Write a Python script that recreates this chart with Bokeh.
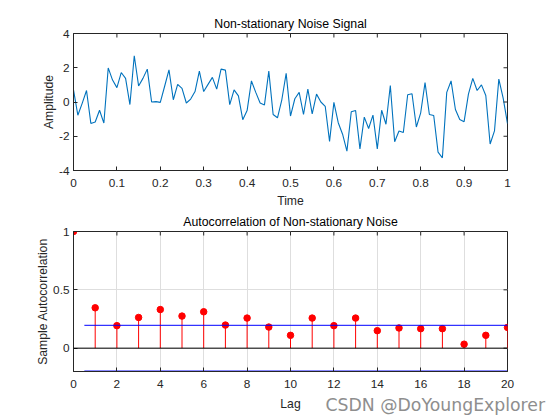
import math
from bokeh.plotting import figure
from bokeh.layouts import column
from bokeh.models import FixedTicker, Span, CustomJSTickFormatter
from bokeh.core.properties import value
from bokeh.embed import file_html
from bokeh.resources import INLINE

# ---------------- data ----------------
time = [i / 100 for i in range(101)]
signal = [0.71, -0.77, -0.08, 0.67, -1.25, -1.17, -0.48, -1.23, 1.99, 1.28,
          0.84, 1.72, 1.38, -0.15, 2.70, 0.94, 1.38, 1.92, 0.00, 0.02,
          -0.02, 0.92, 1.88, 0.13, 1.03, 0.80, -0.06, 0.17, 0.61, 1.80,
          0.61, 1.03, 1.44, 0.75, 1.92, 1.86, -0.15, 0.71, 0.36, -1.03,
          -0.50, 1.23, 0.56, -0.06, -0.17, 1.80, -0.73, -0.92, 0.13, 1.67,
          -0.82, 0.19, 0.56, -0.73, 0.75, -0.69, 0.46, 0.00, -0.25, -2.30,
          -0.02, -1.21, -1.88, -2.87, -0.57, -0.50, -2.74, -0.88, -1.55, -0.77,
          -2.74, -0.48, -1.30, 0.96, -2.32, -1.69, -1.78, 0.42, 0.48, -1.46,
          -0.63, 1.13, -0.73, -0.79, -2.93, -3.26, 0.56, 1.23, -0.44, -1.02,
          -1.15, 0.46, 1.38, 0.67, 1.00, 0.38, -2.45, -1.69, 1.34, 0.23,
          -1.26]
lags = list(range(21))
acf = [1.0, 0.346, 0.193, 0.263, 0.331, 0.275, 0.312, 0.198, 0.258, 0.181,
       0.110, 0.258, 0.193, 0.258, 0.150, 0.173, 0.167, 0.167, 0.034, 0.110,
       0.178]
bound = 0.196
time_ticks = [0, 0.1, 0.2, 0.3, 0.4, 0.5, 0.6, 0.7, 0.8, 0.9, 1]
amp_ticks = [-4, -2, 0, 2, 4]
lag_ticks = list(range(0, 21, 2))
acf_ticks = [0, 0.5, 1]
watermark = "CSDN @DoYoungExplorer"

FONT = "Liberation Sans"
AX = "#262626"
fmt = CustomJSTickFormatter(code="return Number(tick.toFixed(3)).toString();")


def style(p, xt, yt):
    p.outline_line_color = AX
    p.outline_line_alpha = 1
    p.outline_line_width = 1
    p.title.align = "center"
    p.title.text_font = FONT
    p.title.text_font_size = "12.3px"
    p.title.text_font_style = "normal"
    p.title.text_color = "black"
    p.title.standoff = 5
    for ax in (p.xaxis[0], p.yaxis[0]):
        ax.major_tick_in = 4
        ax.major_tick_out = 0
        ax.minor_tick_line_color = None
        ax.axis_line_color = AX
        ax.major_tick_line_color = AX
        ax.major_label_text_font = FONT
        ax.major_label_text_font_size = "11.8px"
        ax.major_label_text_color = AX
        ax.axis_label_text_font = FONT
        ax.axis_label_text_font_size = "12.2px"
        ax.axis_label_text_font_style = "normal"
        ax.axis_label_text_color = AX
        ax.formatter = fmt
    p.xaxis[0].axis_label_standoff = 4
    p.yaxis[0].axis_label_standoff = 0
    p.xaxis[0].major_label_standoff = 8
    p.yaxis[0].major_label_standoff = 4
    p.xaxis[0].ticker = FixedTicker(ticks=xt)
    p.yaxis[0].ticker = FixedTicker(ticks=yt)
    # inward ticks on the top and right edges of the box
    x_end = p.x_range.end
    y_end = p.y_range.end
    p.ray(x=xt, y=[y_end] * len(xt), length=4, length_units="screen",
          angle=-math.pi / 2, line_color=AX, line_width=1)
    p.ray(x=[x_end] * len(yt), y=yt, length=4, length_units="screen",
          angle=math.pi, line_color=AX, line_width=1)


# ---------------- top: signal ----------------
p1 = figure(width=560, height=210, x_range=(0, 1), y_range=(-4, 4),
            title="Non-stationary Noise Signal", output_backend="svg",
            toolbar_location=None, min_border_left=73, min_border_right=53,
            min_border_top=33, min_border_bottom=38)
p1.line(time, signal, line_color="#0072BD", line_width=1.1)
p1.xaxis.axis_label = "Time"
p1.yaxis.axis_label = "Amplitude"
p1.xgrid.visible = False
p1.ygrid.visible = False
style(p1, time_ticks, amp_ticks)

# ---------------- bottom: autocorrelation ----------------
p2 = figure(width=560, height=182, x_range=(0, 20), y_range=(-0.2, 1),
            title="Autocorrelation of Non-stationary Noise", output_backend="svg",
            toolbar_location=None, min_border_left=73, min_border_right=53,
            min_border_top=21, min_border_bottom=21)
p2.xgrid.grid_line_color = "#dedede"
p2.ygrid.grid_line_color = "#dedede"
p2.xgrid.ticker = FixedTicker(ticks=lag_ticks)
p2.ygrid.ticker = FixedTicker(ticks=acf_ticks)
p2.add_layout(Span(location=0, dimension="width", line_color="black", line_width=1))
p2.segment(x0=lags, y0=[0] * len(lags), x1=lags, y1=acf, line_color="red", line_width=1)
p2.scatter(lags, acf, size=6.5, fill_color="red", line_color="red")
p2.line([lags[0] + 0.5, lags[-1]], [bound, bound], line_color="blue", line_width=1)
p2.line([lags[0] + 0.5, lags[-1]], [-bound, -bound], line_color="blue", line_width=1)
p2.yaxis.axis_label = "Sample Autocorrelation"
style(p2, lag_ticks, acf_ticks)

# ---------------- strip under the lower axes: x label + watermark ----------------
p3 = figure(width=560, height=26, x_range=(0, 560), y_range=(26, 0),
            output_backend="svg", toolbar_location=None,
            x_axis_location=None, y_axis_location=None,
            min_border_left=0, min_border_right=0, min_border_top=0,
            min_border_bottom=0)
p3.outline_line_color = None
p3.grid.visible = False
p3.text(x=[290], y=[11], text=["Lag"], text_align="center",
        text_baseline="alphabetic", text_font=value(FONT),
        text_font_size="12.2px", text_color=AX)
p3.text(x=[325], y=[12], text=[watermark], text_align="left",
        text_baseline="alphabetic", text_font=value("DejaVu Sans"),
        text_font_size="17.3px", text_color="#8e8e8e")

layout = column(column(p1, p2, spacing=0), p3, spacing=0)
open("out.html", "w").write(file_html(layout, INLINE))
